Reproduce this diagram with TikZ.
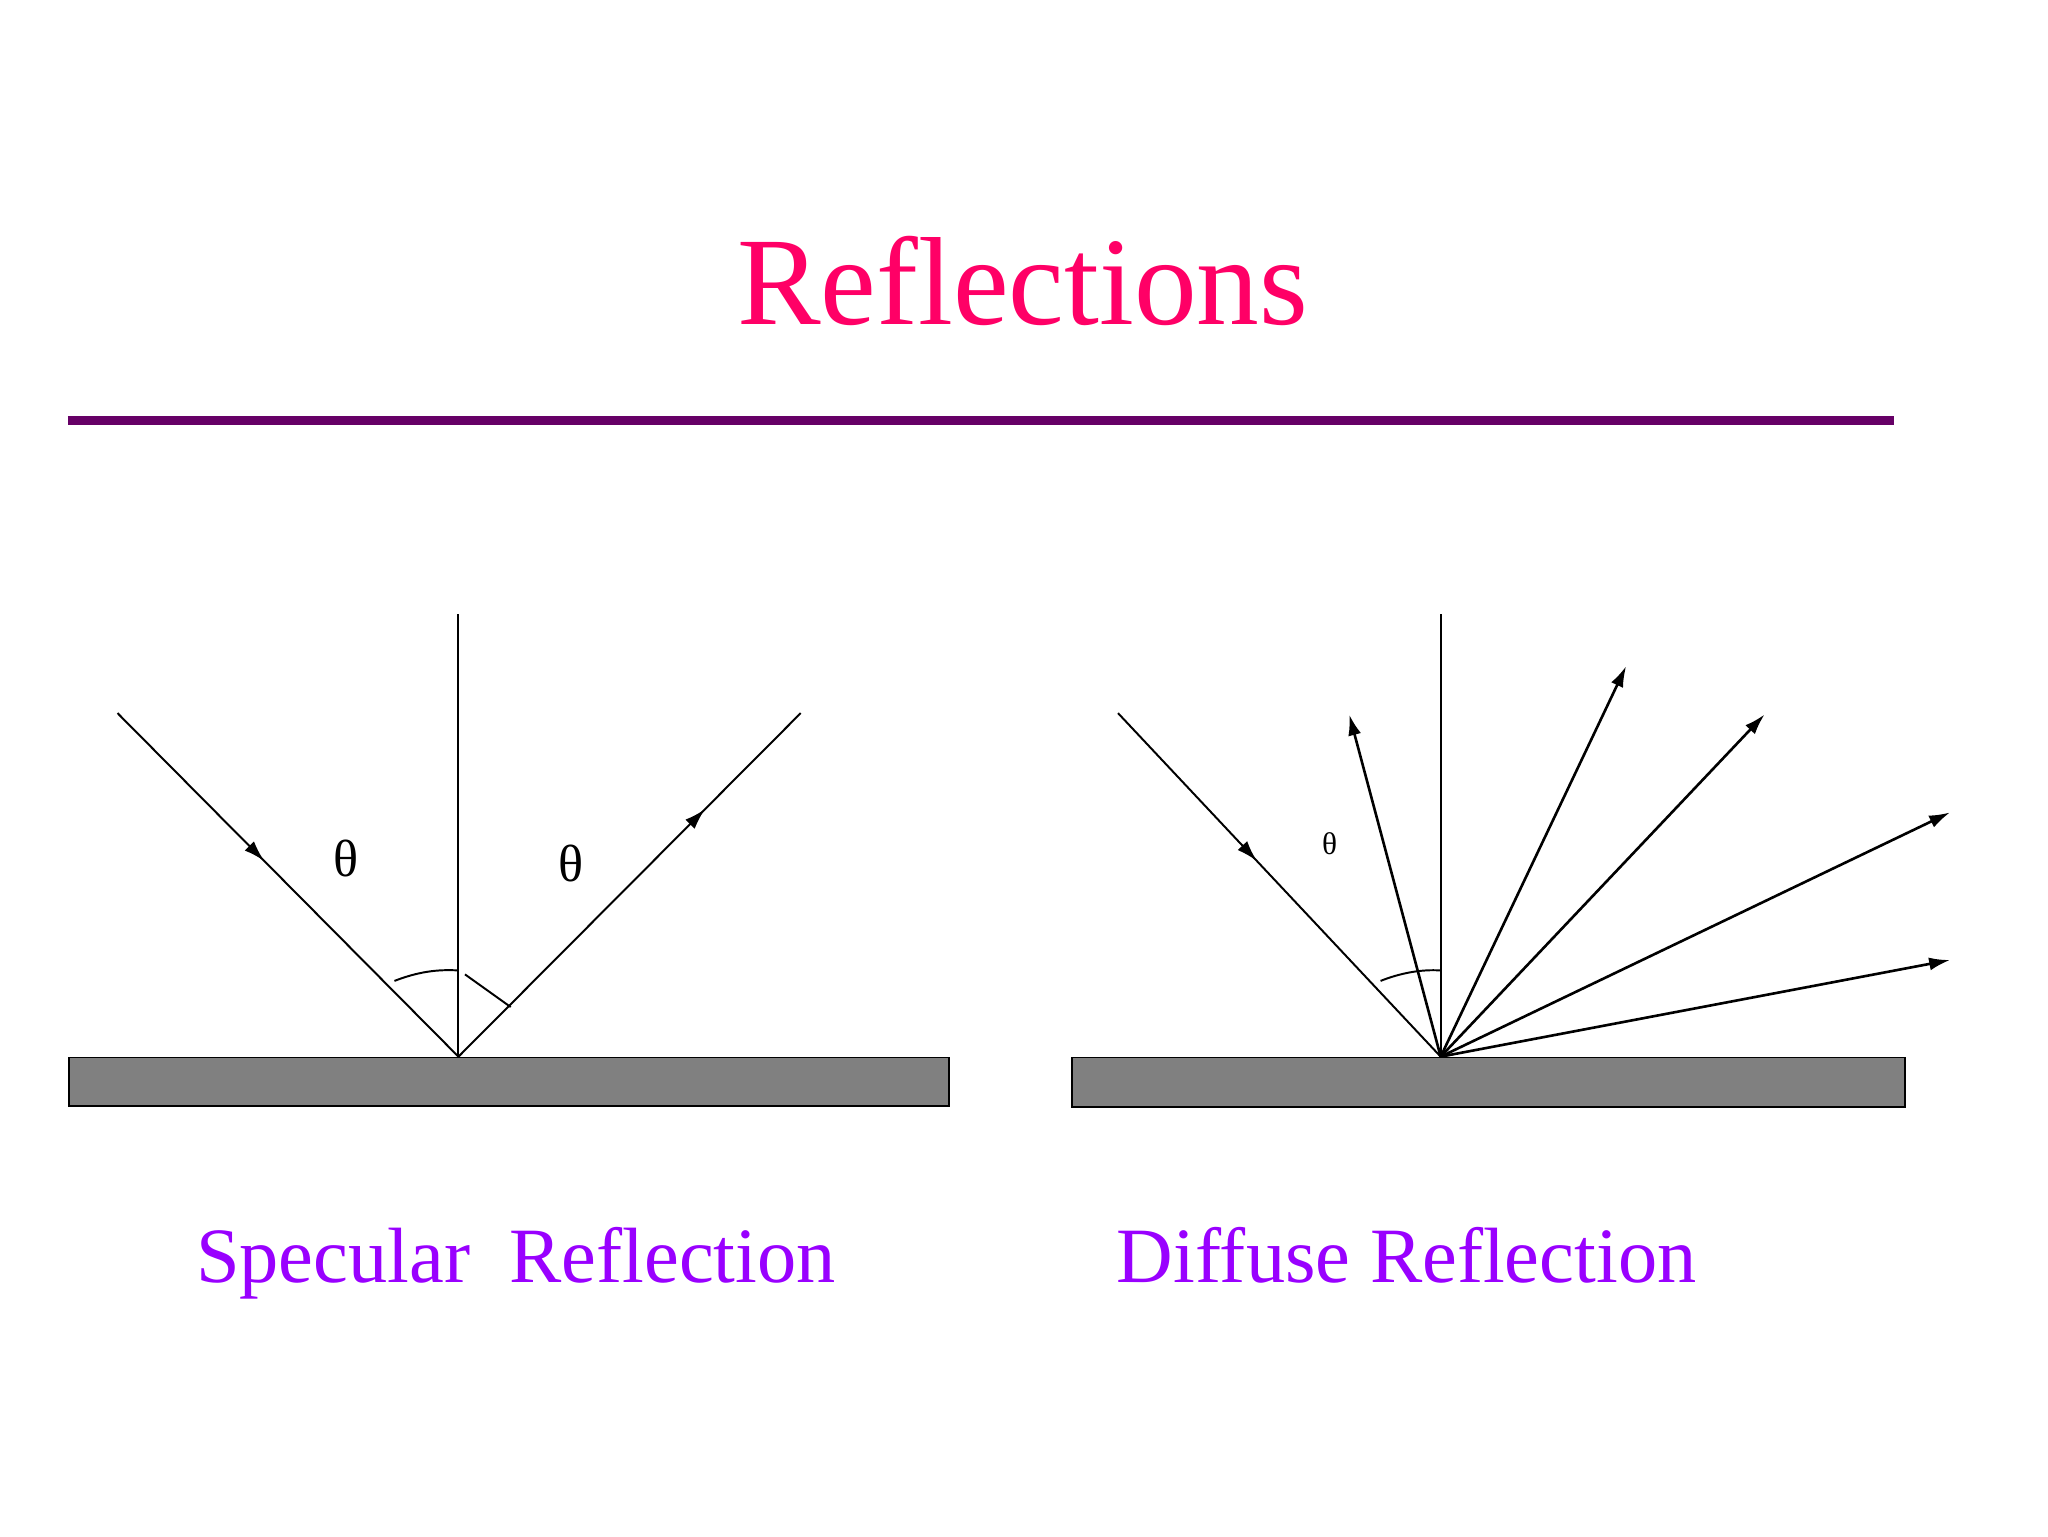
\documentclass[tikz,border=0pt]{standalone}
\usepackage{fontspec}
\setmainfont{Liberation Serif}
\usetikzlibrary{arrows.meta,decorations.markings}
\definecolor{titlecol}{RGB}{255,0,102}
\definecolor{rulecol}{RGB}{102,0,102}
\definecolor{labcol}{RGB}{153,0,255}
\tikzset{
 ray/.style={line width=1.5pt},
 tip/.style={line width=2pt,-{Latex[length=16pt,width=10pt]}},
 midarrow/.style={postaction={decorate},decoration={markings,mark=at position #1 with {\arrow{Latex[length=16pt,width=10pt]}}}},
 slab/.style={draw=black,line width=1.3pt,fill=black!50},
 lab/.style={text=labcol,anchor=base,font=\fontsize{60}{70}\selectfont},
}
\begin{document}
\begin{tikzpicture}[x=1pt,y=-1pt]
\useasboundingbox (0,0) rectangle (1568,1176);
\node[text=titlecol,font=\fontsize{96}{110}\selectfont] (title) at (783,215) {Reflections};
\draw[rulecol,line width=7pt] (52,322) -- (1450,322);
% left
\node[slab,minimum width=674pt,minimum height=37pt,inner sep=0,anchor=north west] (sl) at (52,809) {};
\coordinate (p) at (351,809);
\coordinate (n1) at (351,470);
\coordinate (i1) at (90,546);
\coordinate (r1) at (613,546);
\draw[ray] (p) -- (n1);
\draw[ray,midarrow=0.43] (i1) -- (p);
\draw[ray,midarrow=0.72] (p) -- (r1);
\draw[ray] (302,751) .. controls (320,744) and (335,742) .. (351,743);
\draw[ray] (356,746) -- (391,771);
\node[font=\fontsize{40}{44}\selectfont] (t1) at (265,657) {θ};
\node[font=\fontsize{40}{44}\selectfont] (t2) at (437,661) {θ};
\node[lab] (l1) at (395,982) {Specular\ \ Reflection};
% right
\node[slab,minimum width=638pt,minimum height=38pt,inner sep=0,anchor=north west] (sr) at (820,809) {};
\coordinate (q) at (1103,809);
\draw[ray] (q) -- (1103,470);
\coordinate (i2) at (856,546);
\draw[ray,midarrow=0.43] (i2) -- (q);
\draw[ray] (1057,751) .. controls (1072,745) and (1088,742) .. (1103,743);
\node[font=\fontsize{24}{28}\selectfont] (t3) at (1018,646) {θ};
\foreach \e in {(1033,547),(1245,510),(1351,547),(1493,622),(1493,735)}
  \draw[tip] (q) -- \e;
\node[lab] (l2) at (1077,982) {Diffuse Reflection};
\end{tikzpicture}
\end{document}
